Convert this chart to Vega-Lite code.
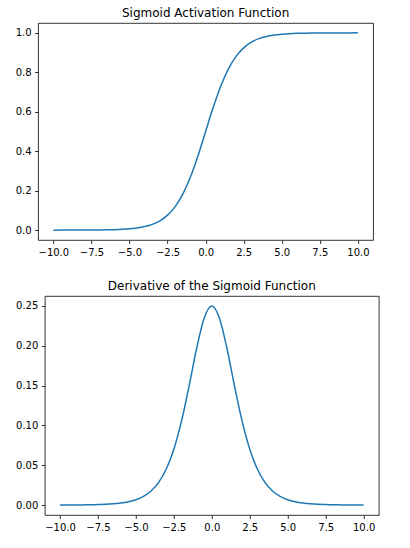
{
  "$schema": "https://vega.github.io/schema/vega-lite/v6.json",
  "description": "Sigmoid function and its derivative, two stacked panels",
  "padding": {"left": 14, "top": 6, "right": 5, "bottom": 5},
  "datasets": {
    "sig": [
      {"x": -10, "s": 0.0000, "ds": 0.0000},
      {"x": -9.5, "s": 0.0001, "ds": 0.0001},
      {"x": -9, "s": 0.0001, "ds": 0.0001},
      {"x": -8.5, "s": 0.0002, "ds": 0.0002},
      {"x": -8, "s": 0.0003, "ds": 0.0003},
      {"x": -7.5, "s": 0.0006, "ds": 0.0006},
      {"x": -7, "s": 0.0009, "ds": 0.0009},
      {"x": -6.5, "s": 0.0015, "ds": 0.0015},
      {"x": -6, "s": 0.0025, "ds": 0.0025},
      {"x": -5.5, "s": 0.0041, "ds": 0.0041},
      {"x": -5, "s": 0.0067, "ds": 0.0066},
      {"x": -4.5, "s": 0.0110, "ds": 0.0109},
      {"x": -4, "s": 0.0180, "ds": 0.0177},
      {"x": -3.5, "s": 0.0293, "ds": 0.0284},
      {"x": -3, "s": 0.0474, "ds": 0.0452},
      {"x": -2.5, "s": 0.0759, "ds": 0.0701},
      {"x": -2, "s": 0.1192, "ds": 0.1050},
      {"x": -1.5, "s": 0.1824, "ds": 0.1491},
      {"x": -1, "s": 0.2689, "ds": 0.1966},
      {"x": -0.5, "s": 0.3775, "ds": 0.2350},
      {"x": 0, "s": 0.5000, "ds": 0.2500},
      {"x": 0.5, "s": 0.6225, "ds": 0.2350},
      {"x": 1, "s": 0.7311, "ds": 0.1966},
      {"x": 1.5, "s": 0.8176, "ds": 0.1491},
      {"x": 2, "s": 0.8808, "ds": 0.1050},
      {"x": 2.5, "s": 0.9241, "ds": 0.0701},
      {"x": 3, "s": 0.9526, "ds": 0.0452},
      {"x": 3.5, "s": 0.9707, "ds": 0.0284},
      {"x": 4, "s": 0.9820, "ds": 0.0177},
      {"x": 4.5, "s": 0.9890, "ds": 0.0109},
      {"x": 5, "s": 0.9933, "ds": 0.0066},
      {"x": 5.5, "s": 0.9959, "ds": 0.0041},
      {"x": 6, "s": 0.9975, "ds": 0.0025},
      {"x": 6.5, "s": 0.9985, "ds": 0.0015},
      {"x": 7, "s": 0.9991, "ds": 0.0009},
      {"x": 7.5, "s": 0.9994, "ds": 0.0006},
      {"x": 8, "s": 0.9997, "ds": 0.0003},
      {"x": 8.5, "s": 0.9998, "ds": 0.0002},
      {"x": 9, "s": 0.9999, "ds": 0.0001},
      {"x": 9.5, "s": 0.9999, "ds": 0.0001},
      {"x": 10, "s": 1.0000, "ds": 0.0000}
    ]
  },
  "data": {"name": "sig"},
  "center": true,
  "spacing": 21,
  "vconcat": [
    {
      "title": "Sigmoid Activation Function",
      "width": 335,
      "height": 217,
      "encoding": {
        "x": {
          "field": "x", "type": "quantitative",
          "scale": {"domain": [-11, 11], "nice": false, "zero": false},
          "axis": {"values": [-10, -7.5, -5, -2.5, 0, 2.5, 5, 7.5, 10], "format": ".1f", "title": null}
        }
      },
      "layer": [
        {
          "mark": {"type": "line", "color": "#1f77b4", "strokeWidth": 1.5, "interpolate": "monotone"},
          "encoding": {
            "y": {
              "field": "s", "type": "quantitative",
              "scale": {"domain": [-0.05, 1.05], "nice": false, "zero": false},
              "axis": {"values": [0, 0.2, 0.4, 0.6, 0.8, 1.0], "format": ".1f", "title": null}
            }
          }
        },
        {
          "mark": {"type": "line", "opacity": 0, "interpolate": "monotone"},
          "encoding": {
            "y": {
              "field": "s", "type": "quantitative",
              "scale": {"domain": [-0.05, 1.05], "nice": false, "zero": false},
              "axis": {"orient": "right", "values": [0.5], "labelExpr": "'0'", "labelOpacity": 0, "ticks": false, "labelPadding": 6, "title": null}
            }
          }
        }
      ],
      "resolve": {"axis": {"y": "independent"}}
    },
    {
      "title": "Derivative of the Sigmoid Function",
      "width": 334,
      "height": 219,
      "mark": {"type": "line", "color": "#1f77b4", "strokeWidth": 1.5, "interpolate": "monotone"},
      "encoding": {
        "x": {
          "field": "x", "type": "quantitative",
          "scale": {"domain": [-11, 11], "nice": false, "zero": false},
          "axis": {"values": [-10, -7.5, -5, -2.5, 0, 2.5, 5, 7.5, 10], "format": ".1f", "title": null}
        },
        "y": {
          "field": "ds", "type": "quantitative",
          "scale": {"domain": [-0.0125, 0.2625], "nice": false, "zero": false},
          "axis": {"values": [0, 0.05, 0.1, 0.15, 0.2, 0.25], "format": ".2f", "title": null}
        }
      }
    }
  ],
  "config": {
    "font": "DejaVu Sans",
    "background": "white",
    "view": {"stroke": "black", "strokeWidth": 0.8},
    "title": {"fontSize": 12, "fontWeight": "normal", "color": "black", "font": "DejaVu Sans", "offset": 3},
    "axis": {
      "domain": false,
      "grid": false,
      "ticks": true,
      "tickSize": 3.5,
      "tickWidth": 0.8,
      "tickColor": "black",
      "labelPadding": 3.5,
      "labelFontSize": 10,
      "labelColor": "black",
      "labelFont": "DejaVu Sans"
    }
  }
}
